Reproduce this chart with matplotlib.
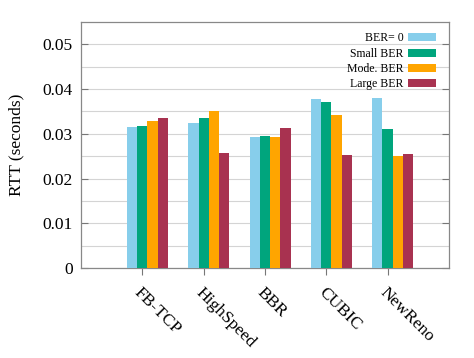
import numpy as np
import matplotlib
matplotlib.use("Agg")
import matplotlib.pyplot as plt

plt.rcParams["font.family"] = ["Liberation Serif", "DejaVu Serif"]

protocols = ["FB-TCP", "HighSpeed", "BBR", "CUBIC", "NewReno"]
series_names = ["BER= 0", "Small BER", "Mode. BER", "Large BER"]
ber_zero = [0.0316, 0.0323, 0.0292, 0.0377, 0.0380]
ber_small = [0.0317, 0.0335, 0.0294, 0.0370, 0.0311]
ber_mode = [0.0329, 0.0352, 0.0292, 0.0341, 0.0250]
ber_large = [0.0336, 0.0257, 0.0314, 0.0253, 0.0255]
colors = ["#87ceeb", "#00a57d", "#ffa500", "#a83250"]


def main():
    fig = plt.figure(figsize=(4.74, 3.58), dpi=100)
    ax = fig.add_axes([0.171, 0.251, 0.776, 0.688])

    x = np.arange(1, len(protocols) + 1)
    w = 0.167
    all_series = [ber_zero, ber_small, ber_mode, ber_large]
    for i, (vals, name, c) in enumerate(zip(all_series, series_names, colors)):
        ax.bar(x + (i - 1) * w, vals, width=w, color=c, label=name,
               linewidth=0, zorder=3)

    ax.set_xlim(0, 6)
    ax.set_ylim(0, 0.055)
    ax.set_yticks([0, 0.01, 0.02, 0.03, 0.04, 0.05])
    ax.set_yticklabels(["0", "0.01", "0.02", "0.03", "0.04", "0.05"], fontsize=12.5)
    ax.set_yticks(np.arange(0.005, 0.055, 0.01), minor=True)
    ax.yaxis.grid(True, which="both", color="#d4d4d4", linewidth=0.8, zorder=0)
    ax.set_axisbelow(True)

    ax.set_xticks(x)
    ax.set_xticklabels(protocols, fontsize=12.5, rotation=-45, ha="left",
                       va="top", rotation_mode="anchor")
    ax.tick_params(axis="x", direction="out", length=5, color="#777777", pad=7)
    ax.tick_params(axis="y", which="major", direction="in", length=5,
                   right=True, color="#777777", pad=6)
    ax.tick_params(axis="y", which="minor", length=0)
    for s in ax.spines.values():
        s.set_color("#888888")
        s.set_linewidth(0.9)

    ax.set_ylabel("RTT (seconds)", fontsize=12.5, labelpad=13)

    ax.legend(loc="upper right", bbox_to_anchor=(0.995, 1.0), frameon=False,
              fontsize=8.5, markerfirst=False, handlelength=2.4,
              handleheight=0.7, labelspacing=0.28, handletextpad=0.4,
              alignment="right")

    fig.savefig("out.png", dpi=100)
    plt.close(fig)


if __name__ == "__main__":
    main()
